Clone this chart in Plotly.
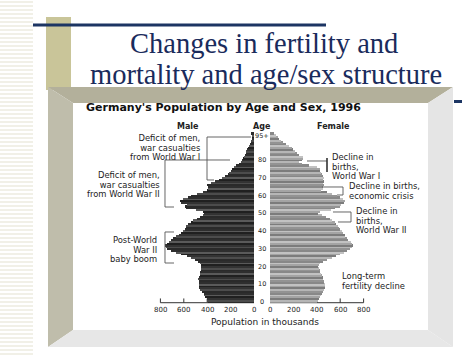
import plotly.graph_objects as go

W, H = 474, 355

# ---------------- data ----------------
ages = list(range(96))  # 95 = "95+"
male = [392, 400, 405, 415, 425, 430, 445, 460, 473, 470,
        470, 468, 472, 475, 470, 465, 462, 458, 455, 452,
        450, 455, 465, 478, 505, 535, 575, 620, 665, 710,
        740, 755, 758, 745, 730, 712, 690, 665, 640, 620,
        605, 592, 585, 578, 560, 540, 520, 490, 460, 440,
        425, 440, 500, 585, 590, 575, 620, 635, 605, 565,
        535, 490, 440, 405, 390, 395, 400, 370, 330, 300,
        270, 245, 218, 210, 200, 185, 170, 150, 125, 110,
        100, 92, 82, 76, 70, 66, 60, 52, 47, 38,
        28, 22, 18, 14, 10, 25]
female = [405, 410, 415, 425, 435, 445, 455, 465, 470, 470,
          468, 465, 462, 456, 450, 445, 440, 430, 427, 420,
          413, 420, 430, 450, 490, 527, 560, 598, 630, 655,
          680, 705, 712, 700, 690, 669, 655, 645, 641, 625,
          613, 600, 590, 584, 565, 556, 530, 513, 480, 442,
          413, 430, 520, 556, 598, 610, 630, 641, 620, 598,
          570, 530, 484, 440, 450, 456, 460, 456, 460, 456,
          462, 450, 445, 435, 430, 427, 400, 330, 270, 250,
          275, 285, 280, 250, 230, 214, 200, 185, 160, 135,
          114, 95, 80, 71, 55, 35]
age_tick_vals = [0, 10, 20, 30, 40, 50, 60, 70, 80, 95]
age_tick_text = ["0", "10", "20", "30", "40", "50", "60", "70", "80", "95+"]
pop_ticks = [0, 200, 400, 600, 800]
pop_tick_text = ["0", "200", "400", "600", "800"]

# ---------------- helpers ----------------
def px(x):
    return x / W

def py(y):
    return 1 - y / H

def poly(pts):
    return "M " + " L ".join(f"{px(x):.5f},{py(y):.5f}" for x, y in pts) + " Z"

def pline(pts):
    return "M " + " L ".join(f"{px(x):.5f},{py(y):.5f}" for x, y in pts)

male_shades = ["#2a2a2a", "#4c4c4c", "#333333", "#202020", "#5a5a5a", "#2e2e2e"]
female_shades = ["#939393", "#b6b6b6", "#7c7c7c", "#a4a4a4", "#c2c2c2", "#888888"]

fig = go.Figure()
fig.add_trace(go.Bar(x=male, y=ages, orientation="h", xaxis="x", yaxis="y",
                     width=1, marker=dict(color=[male_shades[i % 6] for i in ages], line=dict(width=0)),
                     showlegend=False, hoverinfo="skip"))
fig.add_trace(go.Bar(x=female, y=ages, orientation="h", xaxis="x2", yaxis="y",
                     width=1, marker=dict(color=[female_shades[i % 6] for i in ages], line=dict(width=0)),
                     showlegend=False, hoverinfo="skip"))

shapes = []
# left stripes
for yy in range(2, 355, 4):
    shapes.append(dict(type="line", xref="paper", yref="paper", x0=0, x1=px(33), y0=py(yy), y1=py(yy),
                       line=dict(color="#e4e2cf", width=1.2), layer="below"))
# tan vertical bar
shapes.append(dict(type="rect", xref="paper", yref="paper", x0=px(46), x1=px(71), y0=py(90), y1=py(17),
                   fillcolor="#c9c599", line=dict(width=0), layer="below"))
# navy rule
shapes.append(dict(type="rect", xref="paper", yref="paper", x0=px(33), x1=px(326), y0=py(26.5), y1=py(23.5),
                   fillcolor="#1c3563", line=dict(width=0), layer="below"))
# frame bevels
shapes.append(dict(type="path", xref="paper", yref="paper", path=poly([(48, 87), (453, 87), (428, 103), (73, 103)]),
                   fillcolor="#b3b09b", line=dict(width=0), layer="below"))
shapes.append(dict(type="path", xref="paper", yref="paper", path=poly([(48, 87), (73, 103), (73, 330), (48, 347)]),
                   fillcolor="#bfbdab", line=dict(width=0), layer="below"))
shapes.append(dict(type="path", xref="paper", yref="paper", path=poly([(453, 87), (453, 347), (428, 330), (428, 103)]),
                   fillcolor="#e5e5e5", line=dict(width=0), layer="below"))
shapes.append(dict(type="path", xref="paper", yref="paper", path=poly([(48, 347), (453, 347), (428, 330), (73, 330)]),
                   fillcolor="#e7e7e7", line=dict(width=0), layer="below"))
shapes.append(dict(type="rect", xref="paper", yref="paper", x0=px(73), x1=px(428), y0=py(330), y1=py(103),
                   fillcolor="#ffffff", line=dict(width=0), layer="below"))
# small navy dash at right
shapes.append(dict(type="rect", xref="paper", yref="paper", x0=px(454), x1=px(462), y0=py(103), y1=py(100),
                   fillcolor="#1c3563", line=dict(width=0), layer="below"))

# population axis lines with ticks (drawn under the bars)
for ax in ["x", "x2"]:
    shapes.append(dict(type="line", xref=ax, yref="y", x0=0, x1=pop_ticks[-1], y0=-0.4, y1=-0.4,
                       line=dict(color="#333", width=1), layer="below"))
    for t in pop_ticks:
        shapes.append(dict(type="line", xref=ax, yref="y", x0=t, x1=t, y0=-0.4, y1=2.0,
                           line=dict(color="#333", width=1), layer="below"))

# annotation brackets
bcol = "#555555"
for pts in [[(251, 137), (207, 137), (207, 180), (214, 180)],
            [(230, 160), (165, 160), (165, 207), (174, 207)],
            [(174, 232), (165, 232), (165, 263), (174, 263)],
            [(307, 161), (327, 161)],
            [(322, 187), (343, 187), (343, 195), (337, 195)],
            [(333, 212), (351, 212), (351, 222), (338, 222)]]:
    shapes.append(dict(type="path", xref="paper", yref="paper", path=pline(pts), line=dict(color=bcol, width=0.9)))
shapes.append(dict(type="line", xref="paper", yref="paper", x0=px(327), x1=px(327), y0=py(158), y1=py(172),
                   line=dict(color="#333", width=1.6)))

ann = []
SF = "DejaVu Sans"
TC = "#222222"
# slide title
ann.append(dict(text="Changes in fertility and", x=px(264), y=py(43.5), xref="paper", yref="paper",
                showarrow=False, xanchor="center", yanchor="middle",
                font=dict(family="Liberation Serif", size=28.5, color="#1a2b5c")))
ann.append(dict(text="mortality and age/sex structure", x=px(266), y=py(75), xref="paper", yref="paper",
                showarrow=False, xanchor="center", yanchor="middle",
                font=dict(family="Liberation Serif", size=28.5, color="#1a2b5c")))
# chart title
ann.append(dict(text="<b>Germany's Population by Age and Sex, 1996</b>", x=px(84), y=py(107.5),
                xref="paper", yref="paper", showarrow=False, xanchor="left", yanchor="middle",
                font=dict(family=SF, size=11, color="#111")))
for t, xx in [("Male", 188), ("Age", 262), ("Female", 333)]:
    ann.append(dict(text=f"<b>{t}</b>", x=px(xx), y=py(126.5), xref="paper", yref="paper", showarrow=False,
                    xanchor="center", yanchor="middle", font=dict(family=SF, size=8, color=TC)))
# age labels
for v, t in zip(age_tick_vals, age_tick_text):
    yv = v - 1.5 if t.endswith("+") else v
    ann.append(dict(text=t, x=px(262), y=yv, xref="paper", yref="y", showarrow=False,
                    xanchor="center", yanchor="middle", font=dict(family=SF, size=6.5, color=TC)))
# population tick labels
for ax in ["x", "x2"]:
    for v, t in zip(pop_ticks, pop_tick_text):
        ann.append(dict(text=t, x=v, y=py(310), xref=ax, yref="paper", showarrow=False,
                        xanchor="center", yanchor="middle", font=dict(family=SF, size=7, color=TC)))
ann.append(dict(text="Population in thousands", x=px(265), y=py(322), xref="paper", yref="paper",
                showarrow=False, xanchor="center", yanchor="middle", font=dict(family=SF, size=9, color=TC)))

# multi-line note blocks: base font sets line spacing, inner span sets glyph size
def block(lines, x, ycenter, anchor, align):
    txt = "<br>".join(f'<span style="font-size:8.4px">{ln}</span>' for ln in lines)
    ann.append(dict(text=txt, x=px(x), y=py(ycenter), xref="paper", yref="paper", showarrow=False,
                    xanchor=anchor, yanchor="middle", align=align,
                    font=dict(family=SF, size=7.4, color=TC)))

block(["Deficit of men,", "war casualties", "from World War I"], 202, 147, "right", "right")
block(["Deficit of men,", "war casualties", "from World War II"], 162, 184, "right", "right")
block(["Post-World", "War II", "baby boom"], 159, 249.5, "right", "right")
block(["Decline in", "births,", "World War I"], 330, 166.5, "left", "left")
block(["Decline in births,", "economic crisis"], 347, 191.5, "left", "left")
block(["Decline in", "births,", "World War II"], 354, 220.5, "left", "left")
block(["Long-term", "fertility decline"], 340, 281, "left", "left")

XL, XR0, XR1 = 140, 254, 270
SCALE = 0.117
fig.update_layout(
    width=W, height=H, margin=dict(l=0, r=0, t=0, b=0),
    paper_bgcolor="white", plot_bgcolor="rgba(0,0,0,0)",
    barmode="overlay", bargap=0,
    xaxis=dict(domain=[px(XL), px(XR0)], range=[(XR0 - XL) / SCALE, 0], visible=False, fixedrange=True),
    xaxis2=dict(domain=[px(XR1), px(400)], range=[0, (400 - XR1) / SCALE], visible=False, anchor="y",
                fixedrange=True),
    yaxis=dict(domain=[py(315), py(125)], range=[(302 - 315) / 1.775, (302 - 125) / 1.775], visible=False,
               fixedrange=True),
    shapes=shapes, annotations=ann,
)
fig.write_html("out.html")
